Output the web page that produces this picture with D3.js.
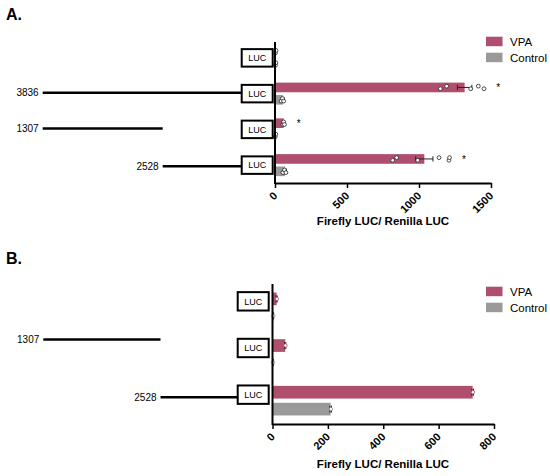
<!DOCTYPE html>
<html><head><meta charset="utf-8">
<script src="https://cdn.jsdelivr.net/npm/d3@7"></script>
<style>body{margin:0;background:#fff}svg{display:block}text{font-family:Arial,"Liberation Sans",sans-serif}</style>
</head><body>
<svg id="c" width="550" height="476"></svg>
<script>
// ---------- data ----------
const seriesNames = ["VPA", "Control"];
const catsA = ["", "3836", "1307", "2528"];
const vpaA = [5, 1317, 60, 1037];
const ctrlA = [5, 55, 5, 70];
const vpaErrA = [2, 50, 6, 60];
const ctrlErrA = [1, 8, 1, 10];
const vpaPtsA = [[3, 7], [1148, 1192, 1359, 1412, 1451], [55, 60, 66], [817, 845, 991, 1139, 1208, 1212]];
const ctrlPtsA = [[3, 6], [42, 52, 60], [2, 6], [55, 66, 76]];
const starsA = [null, 1550, 165, 1312];
const ticksA = [0, 500, 1000, 1500];

const catsB = ["", "1307", "2528"];
const vpaB = [15, 46, 723];
const ctrlB = [3, 2, 210];
const vpaErrB = [2, 2, 3];
const ctrlErrB = [1, 1, 3];
const vpaPtsB = [[16], [47], [724]];
const ctrlPtsB = [[3], [2], [211]];
const starsB = [null, null, null];
const ticksB = [0, 200, 400, 600, 800];

// promoter segment extents (fraction of full 3836 construct drawing)
const spanOf = {"3836": [0, 1], "1307": [0, 0.603], "2528": [0.603, 1]};

const axisTitle = "Firefly LUC/ Renilla LUC";
const colors = {VPA: "#b04f6d", Control: "#9a9a9a"};

const svg = d3.select("#c");

function panel(o) {
  const g = svg.append("g");
  const x = d3.scaleLinear().domain([0, o.ticks[o.ticks.length - 1]]).range(o.xr);
  const y = d3.scaleBand().domain(o.cats.map((c, i) => i)).range(o.yr);
  const inner = d3.scaleBand().domain(seriesNames).range([-o.half, o.half]).paddingInner(o.pad);
  const ser = [
    {name: "VPA", vals: o.vpa, err: o.vpaErr, pts: o.vpaPts},
    {name: "Control", vals: o.ctrl, err: o.ctrlErr, pts: o.ctrlPts}
  ];
  const cy = i => y(i) + y.bandwidth() / 2;

  ser.forEach(s => {
    const bw = inner.bandwidth();
    s.vals.forEach((v, i) => {
      const top = cy(i) + inner(s.name);
      g.append("rect").attr("x", x(0)).attr("y", top).attr("width", x(v) - x(0)).attr("height", bw)
        .attr("fill", colors[s.name]);
      const mid = top + bw / 2;
      const e = s.err[i];
      const capH = bw * 0.55;
      g.append("line").attr("x1", x(v - e)).attr("x2", x(v + e)).attr("y1", mid).attr("y2", mid)
        .attr("stroke", "#222").attr("stroke-width", 1);
      [v - e, v + e].forEach(t => g.append("line").attr("x1", x(t)).attr("x2", x(t))
        .attr("y1", mid - capH / 2).attr("y2", mid + capH / 2).attr("stroke", "#222").attr("stroke-width", 1));
      s.pts[i].forEach((p, k) => {
        g.append("circle").attr("cx", x(p)).attr("cy", mid + (s.pts[i].length > 1 ? (k % 2 ? -1.3 : 1.3) : 0))
          .attr("r", o.pr).attr("fill", "#fff").attr("stroke", o.ptStroke(s.name)).attr("stroke-width", 0.8);
      });
    });
  });

  // asterisks
  o.stars.forEach((s, i) => {
    if (s == null) return;
    g.append("text").attr("x", x(s)).attr("y", cy(i) + inner("VPA") + inner.bandwidth() / 2 + 4)
      .attr("text-anchor", "middle").attr("font-size", 10).text("*");
  });

  // axes
  g.append("line").attr("x1", x(0)).attr("x2", x(0)).attr("y1", o.yr[0] + o.axTop).attr("y2", o.yr[1] + 1)
    .attr("stroke", "#000").attr("stroke-width", 2);
  const xa = g.append("g").attr("transform", `translate(0,${o.yr[1]})`)
    .call(d3.axisBottom(x).tickValues(o.ticks).tickSize(5).tickSizeOuter(0).tickFormat(d3.format("d")));
  xa.select(".domain").attr("stroke", "#000").attr("stroke-width", 2);
  xa.selectAll(".tick line").attr("stroke", "#000").attr("stroke-width", 1.5);
  xa.selectAll(".tick text").attr("font-size", 11).attr("font-weight", "bold").attr("fill", "#000")
    .attr("text-anchor", "end").attr("dy", null).attr("y", null)
    .attr("transform", "translate(2.5,13.5) rotate(-45)");
  g.append("text").attr("x", o.titleX).attr("y", o.titleY).attr("text-anchor", "middle")
    .attr("font-size", 11.5).attr("font-weight", "bold").text(axisTitle);

  // LUC boxes & promoter lines
  const px = d3.scaleLinear().domain([0, 1]).range([o.lineX0, o.boxX]);
  o.cats.forEach((c, i) => {
    const bc = cy(i) + o.boxDy;
    g.append("rect").attr("x", o.boxX).attr("y", bc - o.boxH / 2).attr("width", o.boxW).attr("height", o.boxH)
      .attr("fill", "#fff").attr("stroke", "#000").attr("stroke-width", 2);
    g.append("text").attr("x", o.boxX + o.boxW / 2).attr("y", bc + 3.3).attr("text-anchor", "middle")
      .attr("font-size", 9).attr("font-family", "'Open Sans',sans-serif").text("LUC");
    if (!c) return;
    const sp = spanOf[c];
    const ly = bc + (o.lineDy[i] || 0);
    g.append("line").attr("x1", px(sp[0])).attr("x2", px(sp[1])).attr("y1", ly).attr("y2", ly)
      .attr("stroke", "#000").attr("stroke-width", 2.5);
    g.append("text").attr("x", px(sp[0]) - 4).attr("y", ly + 3.6).attr("text-anchor", "end")
      .attr("font-size", 10).text(c);
  });

  // legend
  seriesNames.forEach((n, k) => {
    const ty = o.legY + k * 16;
    g.append("rect").attr("x", 486).attr("y", ty).attr("width", 16.5).attr("height", 9.5).attr("fill", colors[n]);
    g.append("text").attr("x", 510).attr("y", ty + 8.8).attr("font-size", 11.5).text(n);
  });

  // panel label
  g.append("text").attr("x", 6).attr("y", o.labY).attr("font-size", 16).attr("font-weight", "bold").text(o.label);
}

panel({
  label: "A.", labY: 20, cats: catsA, vpa: vpaA, ctrl: ctrlA, vpaErr: vpaErrA, ctrlErr: ctrlErrA,
  vpaPts: vpaPtsA, ctrlPts: ctrlPtsA, stars: starsA, ticks: ticksA,
  xr: [275, 491], yr: [40, 183], half: 11, pad: 0.22, axTop: 2, pr: 1.9,
  ptStroke: () => "#222",
  titleX: 383, titleY: 225, boxX: 241.7, boxW: 31, boxH: 17.5, boxDy: 0, lineX0: 42.7, lineDy: [0, -1, -1, 1],
  legY: 36.7
});
panel({
  label: "B.", labY: 264, cats: catsB, vpa: vpaB, ctrl: ctrlB, vpaErr: vpaErrB, ctrlErr: ctrlErrB,
  vpaPts: vpaPtsB, ctrlPts: ctrlPtsB, stars: starsB, ticks: ticksB,
  xr: [272.5, 494], yr: [284, 424], half: 14.8, pad: 0.25, axTop: 0, pr: 1.7,
  ptStroke: n => n === "VPA" ? "#b04f6d" : "#888",
  titleX: 383, titleY: 468, boxX: 237.7, boxW: 31, boxH: 18.4, boxDy: -6, lineX0: 43.3, lineDy: [0, -8.6, 2.5],
  legY: 286.7
});
</script>
</body></html>
